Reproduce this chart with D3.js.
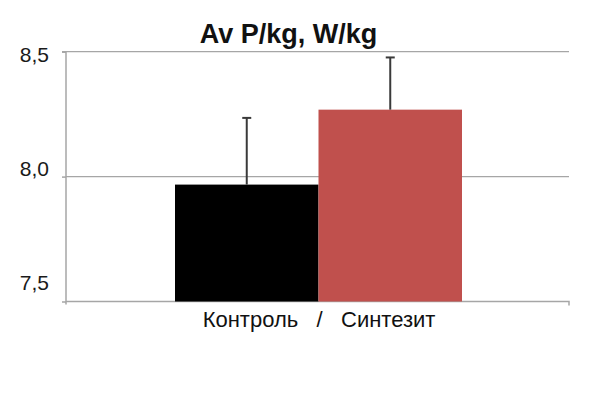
<!DOCTYPE html>
<html><head><meta charset="utf-8">
<script src="https://cdn.jsdelivr.net/npm/d3@7"></script>
<style>body{margin:0;background:#fff}svg{display:block}</style>
</head><body>
<svg id="c" width="600" height="400"></svg>
<script>
const title = "Av P/kg, W/kg";
const categoryLabel = "Контроль   /   Синтезит";
const series = ["Контроль", "Синтезит"];
const values = [7.968, 8.268];
const errors = [0.267, 0.209];
const colors = ["#000000", "#c0504d"];
const yTicks = [7.5, 8.0, 8.5];
const yTickLabels = ["7,5", "8,0", "8,5"];

const svg = d3.select("#c");
const plotLeft = 66, plotRight = 569;
const y = d3.scaleLinear().domain([7.5, 8.5]).range([301.5, 51.7]);
const x = d3.scaleBand().domain(series).range([175, 462]).padding(0);
// label placement scale (labels in reference sit slightly off the gridlines)
const yLab = d3.scaleLinear().domain([7.5, 8.5]).range([289.5, 61.5]);

// gridlines
svg.append("g").selectAll("line").data(yTicks.filter(d => d > 7.5)).join("line")
  .attr("x1", plotLeft).attr("x2", plotRight)
  .attr("y1", d => y(d)).attr("y2", d => y(d))
  .attr("stroke", "#a6a6a6").attr("stroke-width", 1.3);

// y axis line + ticks
const yAxis = d3.axisLeft(y).tickValues(yTicks).tickSize(4).tickFormat("");
const gy = svg.append("g").attr("transform", `translate(${plotLeft},0)`).call(yAxis);
gy.selectAll("path,line").attr("stroke", "#a6a6a6").attr("stroke-width", 1.5);
gy.select(".domain").attr("d", `M-4,${y(8.5)}H0V${y(7.5)+3}`);

// x axis line
svg.append("path")
  .attr("d", `M${plotLeft},${y(7.5)}H${plotRight}V${y(7.5)+4}`)
  .attr("fill", "none").attr("stroke", "#a6a6a6").attr("stroke-width", 1.5);

// tick labels
svg.append("g").selectAll("text").data(yTicks).join("text")
  .attr("x", 49).attr("y", d => yLab(d))
  .attr("text-anchor", "end")
  .attr("font-family", "Liberation Sans, Arial, sans-serif")
  .attr("font-size", 21).attr("fill", "#1a1a1a")
  .text((d, i) => yTickLabels[i]);

// bars
svg.append("g").selectAll("rect").data(series).join("rect")
  .attr("x", d => x(d)).attr("width", x.bandwidth())
  .attr("y", (d, i) => y(values[i]))
  .attr("height", (d, i) => y(7.5) - y(values[i]))
  .attr("fill", (d, i) => colors[i]);

// error bars
const eg = svg.append("g");
series.forEach((s, i) => {
  const cx = x(s) + x.bandwidth() / 2;
  eg.append("line").attr("x1", cx).attr("x2", cx)
    .attr("y1", y(values[i])).attr("y2", y(values[i] + errors[i]))
    .attr("stroke", "#3a3a3a").attr("stroke-width", 2);
  eg.append("line").attr("x1", cx - 4.5).attr("x2", cx + 4.5)
    .attr("y1", y(values[i] + errors[i])).attr("y2", y(values[i] + errors[i]))
    .attr("stroke", "#3a3a3a").attr("stroke-width", 2);
});

// category label
svg.append("text")
  .attr("x", 319).attr("y", 327)
  .attr("text-anchor", "middle")
  .attr("font-family", "Liberation Sans, Arial, sans-serif")
  .attr("font-size", 22).attr("fill", "#111")
  .attr("xml:space", "preserve").style("white-space", "pre")
  .text(categoryLabel);

// title
svg.append("text")
  .attr("x", 288.5).attr("y", 43)
  .attr("text-anchor", "middle")
  .attr("font-family", "Liberation Sans, Arial, sans-serif")
  .attr("font-weight", "bold")
  .attr("font-size", 27).attr("fill", "#111")
  .text(title);
</script>
</body></html>
